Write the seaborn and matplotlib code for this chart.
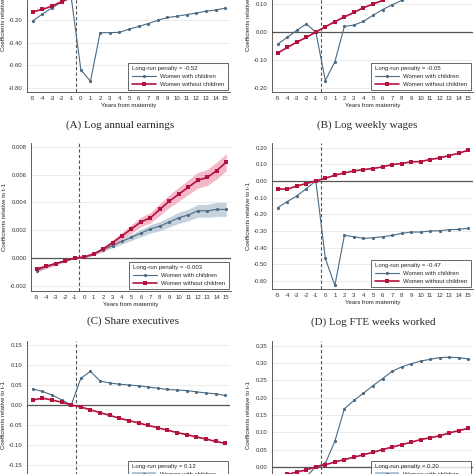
import matplotlib
matplotlib.use("Agg")
import matplotlib.pyplot as plt
from matplotlib.lines import Line2D
from matplotlib.patches import Patch
import seaborn as sns
import numpy as np

sns.set_style("white")
plt.rcParams['font.family'] = ['Liberation Sans', 'DejaVu Sans']
plt.rcParams['axes.unicode_minus'] = False

### data (event time -5..15)
years = list(range(-5, 16))

# (A) log annual earnings
a_with = [-0.206, -0.146, -0.090, -0.040, 0.0, -0.640, -0.740, -0.310, -0.310, -0.307,
          -0.280, -0.255, -0.230, -0.200, -0.176, -0.165, -0.150, -0.137, -0.120, -0.110, -0.093]
a_without = [-0.125, -0.105, -0.075, -0.035, 0.0, 0.020, 0.040, 0.055, 0.070, 0.085,
             0.100, 0.115, 0.130, 0.145, 0.160, 0.175, 0.190, 0.205, 0.220, 0.235, 0.250]

# (B) log weekly wages
b_with = [-0.043, -0.019, 0.006, 0.029, 0.0, -0.173, -0.106, 0.020, 0.025, 0.038,
          0.060, 0.080, 0.097, 0.113, 0.128, 0.142, 0.156, 0.168, 0.180, 0.190, 0.200]
b_without = [-0.075, -0.055, -0.036, -0.019, 0.0, 0.019, 0.037, 0.054, 0.070, 0.087,
             0.100, 0.113, 0.128, 0.143, 0.158, 0.172, 0.186, 0.200, 0.213, 0.226, 0.240]

# (C) share executives, with confidence bands
c_with = [-0.0009, -0.0006, -0.0004, -0.0002, 0.0, 0.00007, 0.0003, 0.0006, 0.0009, 0.0012,
          0.0015, 0.0018, 0.0021, 0.0023, 0.0026, 0.0029, 0.0031, 0.0034, 0.0034, 0.0035, 0.0035]
c_with_ci = [0.00015, 0.00012, 0.0001, 0.00006, 0.0, 0.00006, 0.0001, 0.00013, 0.00016, 0.0002,
             0.00023, 0.00026, 0.0003, 0.00033, 0.00036, 0.0004, 0.00042, 0.00045, 0.00047, 0.0005, 0.0005]
c_without = [-0.0008, -0.0006, -0.0004, -0.0002, 0.0, 0.00007, 0.0003, 0.00065, 0.0011, 0.0016,
             0.0021, 0.0026, 0.0029, 0.0035, 0.0041, 0.0046, 0.0051, 0.0056, 0.0058, 0.0063, 0.0069]
c_without_ci = [0.00018, 0.00014, 0.0001, 0.00006, 0.0, 0.00006, 0.0001, 0.00015, 0.0002, 0.00025,
                0.0003, 0.00034, 0.00038, 0.00042, 0.00046, 0.0005, 0.00053, 0.00056, 0.00058, 0.0006, 0.00062]

# (D) log FTE weeks worked
d_with = [-0.160, -0.124, -0.090, -0.046, 0.0, -0.464, -0.626, -0.326, -0.334, -0.344,
          -0.340, -0.334, -0.326, -0.314, -0.306, -0.306, -0.300, -0.298, -0.292, -0.290, -0.284]
d_without = [-0.048, -0.050, -0.030, -0.016, 0.0, 0.016, 0.034, 0.048, 0.060, 0.068,
             0.074, 0.084, 0.098, 0.104, 0.114, 0.116, 0.128, 0.138, 0.152, 0.166, 0.184]

# (E)
e_with = [0.040, 0.034, 0.025, 0.013, 0.0, 0.067, 0.084, 0.060, 0.055, 0.052,
          0.050, 0.048, 0.045, 0.042, 0.039, 0.0375, 0.036, 0.033, 0.030, 0.028, 0.024]
e_without = [0.0125, 0.017, 0.0125, 0.007, 0.0, -0.005, -0.012, -0.019, -0.026, -0.033,
             -0.039, -0.045, -0.051, -0.057, -0.063, -0.069, -0.074, -0.080, -0.085, -0.091, -0.096]

# (F)
f_with = [-0.090, -0.070, -0.050, -0.028, 0.0, 0.010, 0.074, 0.168, 0.192, 0.213,
          0.235, 0.255, 0.276, 0.289, 0.298, 0.306, 0.311, 0.316, 0.317, 0.316, 0.312]
f_without = [-0.028, -0.022, -0.015, -0.009, 0.0, 0.006, 0.014, 0.021, 0.028, 0.035,
             0.042, 0.050, 0.057, 0.064, 0.071, 0.079, 0.084, 0.090, 0.098, 0.105, 0.111]

penalties = ["-0.52", "-0.05", "-0.003", "-0.47", "0.12", "0.20"]
captions = ["(A) Log annual earnings", "(B) Log weekly wages",
            "(C) Share executives", "(D) Log FTE weeks worked", "", ""]

BLUE = "#4b6b84"
RED = "#b3123f"
W = H = 474

fig = plt.figure(figsize=(4.74, 4.74), dpi=100)


def px_axes(left, top, width, height):
    return fig.add_axes([left / W, 1 - (top + height) / H, width / W, height / H])


# pixel boxes: left, top, width, height; y limits; tick step; tick format
panels = [
    (27, -57, 203, 149, (-0.835, 0.483), 0.2, "%.2f", a_with, a_without, None, None),
    (272, -57, 201, 149, (-0.214, 0.318), 0.1, "%.2f", b_with, b_without, None, None),
    (31, 143, 200, 148, (-0.00237, 0.00828), 0.002, "%.3f", c_with, c_without, c_with_ci, c_without_ci),
    (272, 143, 201, 146, (-0.647, 0.227), 0.1, "%.2f", d_with, d_without, None, None),
    (27, 341, 203, 149, (-0.2125, 0.16), 0.05, "%.2f", e_with, e_without, None, None),
    (272, 341, 201, 149, (-0.067, 0.364), 0.05, "%.2f", f_with, f_without, None, None),
]

fs = 4.3
for i, (l, t, w, h, ylim, step, fmt, yw, yo, cw, co) in enumerate(panels):
    ax = px_axes(l, t, w, h)
    ax.set_xlim(-5.6, 15.5)
    ax.set_ylim(*ylim)
    ticks = np.arange(np.ceil(ylim[0] / step - 1e-9) * step, ylim[1] + 1e-12, step)
    ax.set_yticks(ticks)
    ax.set_yticklabels([fmt % v if abs(v) > 1e-12 else fmt % 0 for v in ticks])
    ax.set_xticks(years)
    ax.yaxis.grid(True, color="#e8e8e8", linewidth=0.6)
    ax.set_axisbelow(True)
    for s in ["top", "right"]:
        ax.spines[s].set_visible(False)
    for s in ["left", "bottom"]:
        ax.spines[s].set_color("#444444")
        ax.spines[s].set_linewidth(0.6)
    ax.tick_params(labelsize=fs, length=2, width=0.5, pad=1, colors="#333333")

    ax.axhline(0, color="#555555", linewidth=0.9, zorder=1)
    ax.axvline(-0.5, color="#555555", linewidth=0.8, linestyle=(0, (3, 2)), zorder=1)

    if cw is not None:
        ax.fill_between(years, np.array(yw) - cw, np.array(yw) + cw, color="#9fb5c8", alpha=0.6, lw=0)
        ax.fill_between(years, np.array(yo) - co, np.array(yo) + co, color="#ee8aa5", alpha=0.6, lw=0)

    sns.lineplot(x=years, y=yw, ax=ax, color=BLUE, linewidth=0.8, marker="o",
                 markersize=2.3, markeredgewidth=0, zorder=3)
    sns.lineplot(x=years, y=yo, ax=ax, color=RED, linewidth=1.2, marker="s",
                 markersize=2.4, markeredgewidth=0, zorder=4)

    ax.set_xlabel("Years from maternity", fontsize=fs, labelpad=1, color="#222222")
    ax.set_ylabel("Coefficients relative to t-1", fontsize=fs, labelpad=2, color="#222222")

    h_with = Line2D([], [], color=BLUE, lw=0.8, marker="o", markersize=2.3, markeredgewidth=0)
    h_without = Line2D([], [], color=RED, lw=1.2, marker="s", markersize=2.4, markeredgewidth=0)
    if i >= 4:
        h_with = (Patch(facecolor="#b4c6d6", edgecolor="none"), h_with)
        h_without = (Patch(facecolor="#f2a8bb", edgecolor="none"), h_without)
    leg = ax.legend([h_with, h_without], ["Women with children", "Women without children"],
                    title="Long-run penalty = " + penalties[i], loc="lower right",
                    fontsize=fs, title_fontsize=fs, frameon=True, fancybox=False,
                    edgecolor="#222222", borderpad=0.6, labelspacing=0.4,
                    handlelength=4.0, handletextpad=0.8, borderaxespad=0.3,
                    alignment="left")
    leg.get_frame().set_linewidth(0.6)

# captions in serif below each panel
cap_pos = [(120, 125), (367, 125), (133, 321), (373, 322)]
for (x, y), txt in zip(cap_pos, captions):
    fig.text(x / W, 1 - y / H, txt, ha="center", va="center", fontsize=7.9,
             family=["Liberation Serif", "DejaVu Serif"])

fig.savefig("out.png", dpi=100)
